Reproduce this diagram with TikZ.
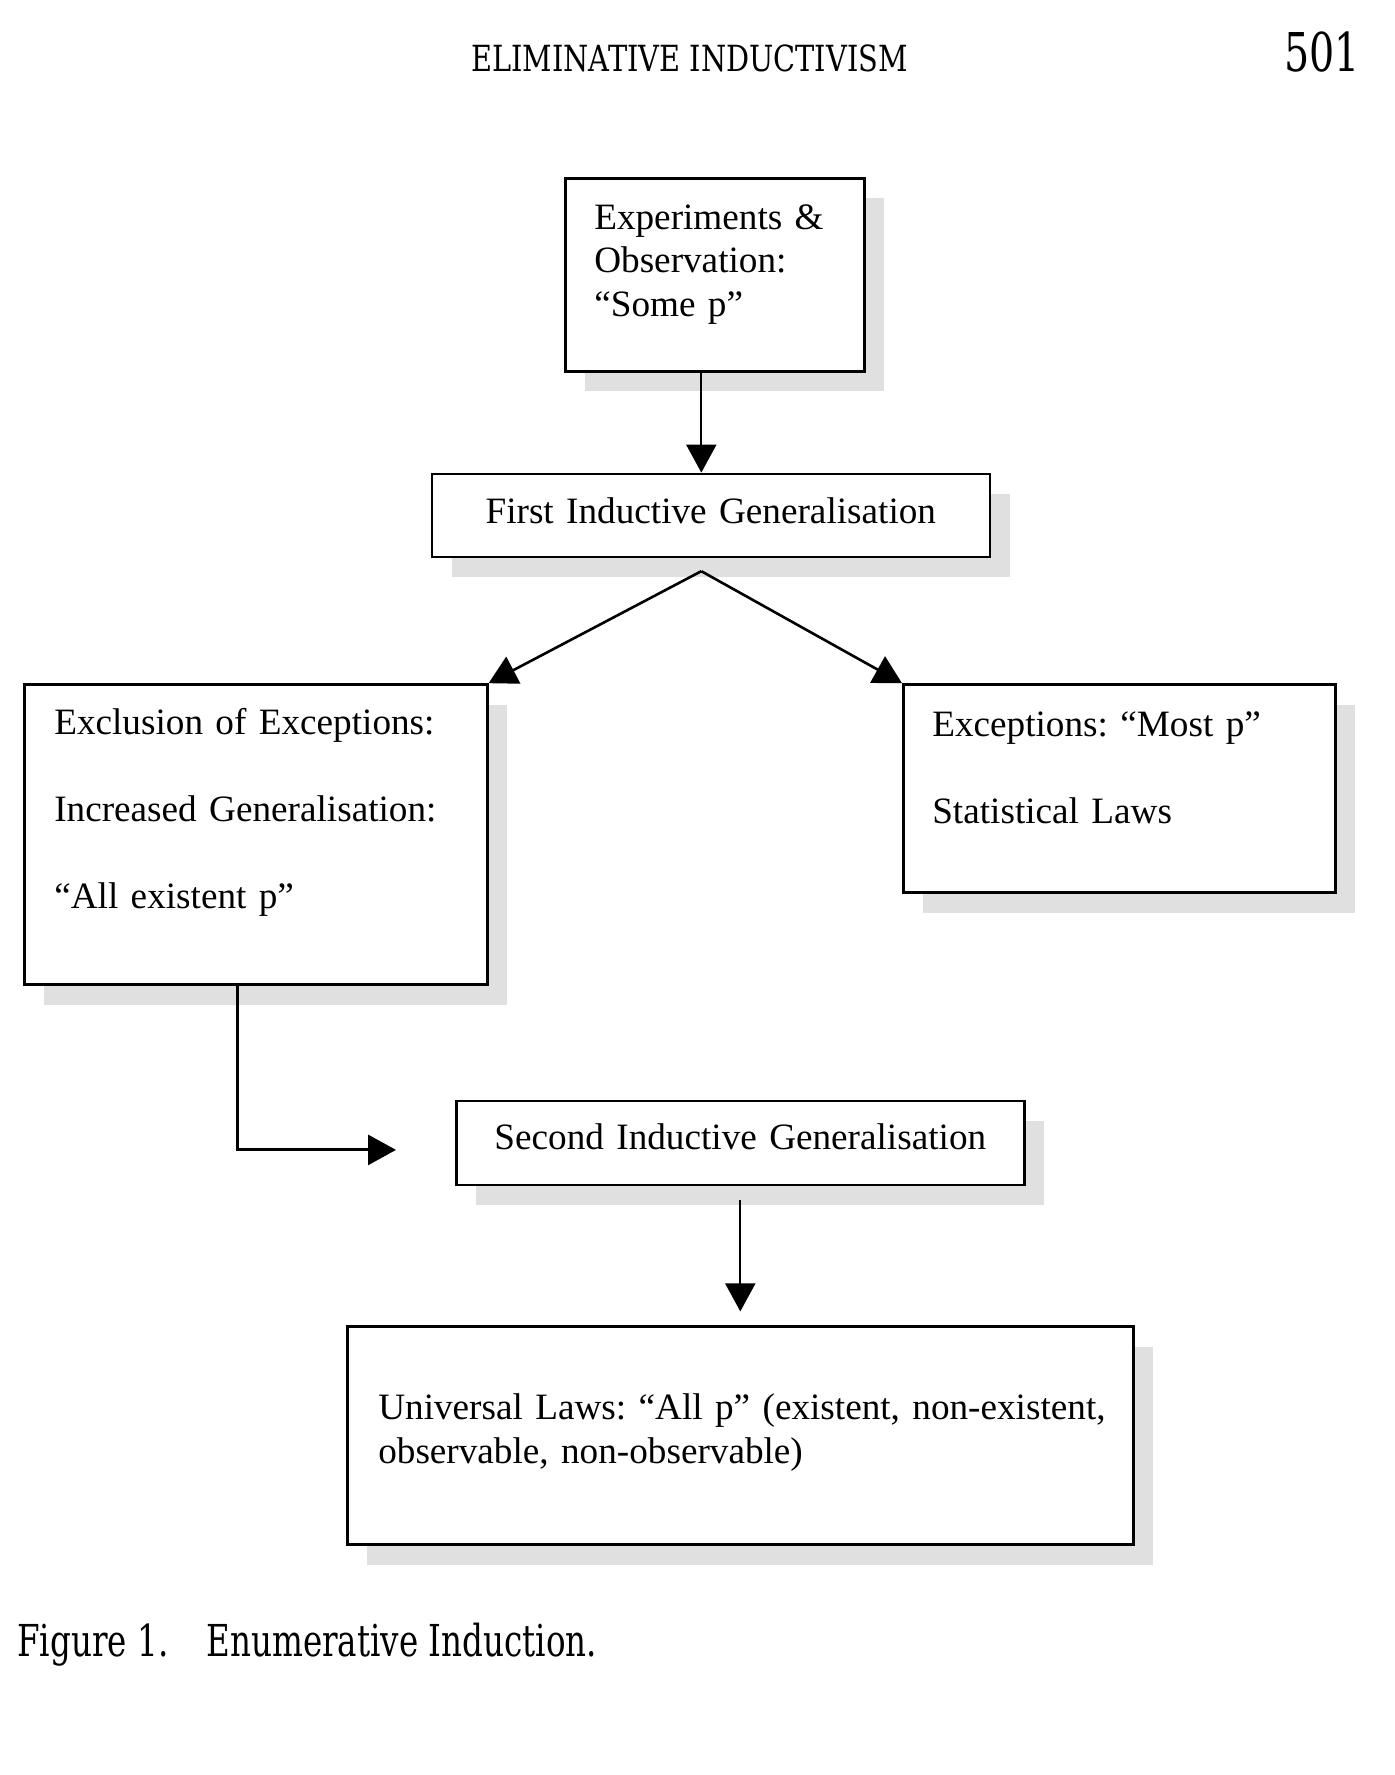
\documentclass[tikz,border=0pt]{standalone}
\usepackage{fontspec}
\setmainfont{Liberation Serif}
\newfontfamily\runfont[FakeStretch=0.74]{DejaVu Serif}
\newfontfamily\headfont[FakeStretch=0.8]{DejaVu Serif}
\usetikzlibrary{arrows.meta,positioning,shadows,calc}
\frenchspacing

\tikzset{
  panel/.style={draw, line width=1.3pt, fill=white, inner ysep=0pt, inner xsep=14.5pt,
    align=left, font=\fontsize{18.6pt}{21.75pt}\selectfont,
    drop shadow={shadow xshift=10pt, shadow yshift=-10pt, fill=black!12, opacity=1}},
  link/.style={->, line width=1pt},
  runtext/.style={inner sep=0pt, font=\runfont},
}

\begin{document}
\begin{tikzpicture}[>={Triangle[length=14pt,width=15pt]}]
    % page area
    \path[fill=white] (0,0) rectangle (697pt,-887.5pt);

    % running head
    \node[runtext, anchor=base, font=\headfont\fontsize{18pt}{21pt}\selectfont] (runhead) at (344.75pt,-36pt) {ELIMINATIVE INDUCTIVISM};
    \node[runtext, anchor=base east, font=\runfont\fontsize{26.75pt}{30pt}\selectfont] (folio) at (680pt,-36pt) {501};

    % boxes
    \node[panel, anchor=north west, text width=120.5pt, text height=25.5pt, text depth=71pt] (obs) at (282pt,-88.5pt)
        {Experiments \&\\Observation:\\“Some p”};
    \node[panel, below=50pt of obs, xshift=-2pt, align=center, text width=250pt, text height=25pt, text depth=16.5pt] (first)
        {First Inductive Generalisation};
    \node[panel, below=62.5pt of first, xshift=-227.5pt, inner xsep=15pt, text width=201.5pt, text height=25pt, text depth=125pt] (excl)
        {Exclusion of Exceptions:\\[21.75pt]Increased Generalisation:\\[21.75pt]“All existent p”};
    \node[panel, below=62.5pt of first, xshift=204.25pt, text width=187pt, text height=26pt, text depth=78pt] (exc)
        {Exceptions: “Most p”\\[21.75pt]Statistical Laws};
    \node[panel, below=57pt of excl, xshift=242.25pt, align=center, text width=255pt, text height=24pt, text depth=18pt] (second)
        {Second Inductive Generalisation};
    \node[panel, below=69.5pt of second, inner xsep=15.5pt, text width=362pt, text height=46.5pt, text depth=62.5pt] (univ)
        {\mbox{Universal Laws: “All p” (existent, non-existent,}\\observable, non-observable)};

    % connectors
    \coordinate (split) at ([xshift=-4.75pt,yshift=-6.5pt]first.south);
    \coordinate (gap) at ([xshift=-29.5pt,yshift=-3.4pt]second.west);
    \draw[link] ([xshift=-6.75pt]obs.south) -- ([xshift=-6.75pt]obs.south |- first.north);
    \draw[link, line width=1.3pt] (split) -- (excl.north east);
    \draw[link, line width=1.3pt] (split) -- (exc.north west);
    \draw[link, line width=1.5pt] ([xshift=-9.25pt]excl.south) |- (gap);
    \draw[link] ([yshift=-7pt]second.south) -- ([yshift=7pt]univ.north);

    % caption
    \node[runtext, anchor=base west, font=\runfont\fontsize{22pt}{26pt}\selectfont] (caption) at (8.5pt,-828pt)
        {Figure 1.\hspace{19pt}Enumerative Induction.};
\end{tikzpicture}
\end{document}
